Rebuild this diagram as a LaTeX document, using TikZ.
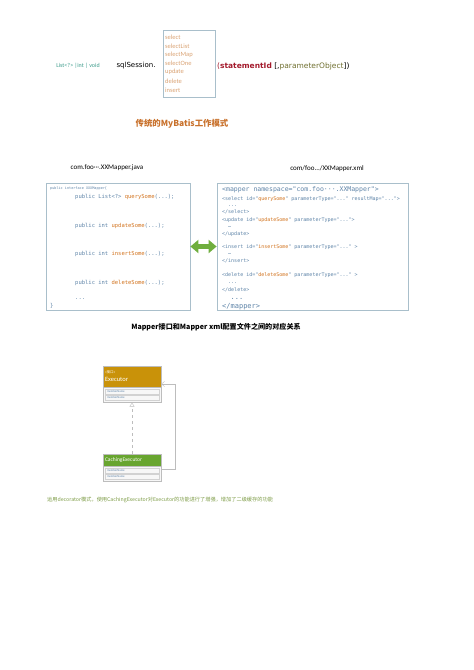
\documentclass[tikz,border=0pt]{standalone}
\usepackage{fontspec}
\setmainfont{Carlito}
\setmonofont{DejaVu Sans Mono}
\newfontfamily\cjk{Noto Sans CJK SC}
\newfontfamily\callfont{DejaVu Sans}
\usepackage{tikz}
\usetikzlibrary{arrows.meta,positioning}
\definecolor{retgreen}{HTML}{3E9C8C}
\definecolor{methodtan}{HTML}{D9A273}
\definecolor{idred}{HTML}{A3192B}
\definecolor{paramolive}{HTML}{6E6E2E}
\definecolor{capbrown}{HTML}{C8702A}
\definecolor{boxline}{HTML}{A9BFCB}
\definecolor{codeblue}{HTML}{5E84A8}
\definecolor{codeorange}{HTML}{D2731E}
\definecolor{arrowgreen}{HTML}{6FAE3E}
\definecolor{execgold}{HTML}{C99209}
\definecolor{cachegreen}{HTML}{68A52F}
\definecolor{umlgray}{HTML}{BDBDBD}
\definecolor{notegreen}{HTML}{7C9B45}
\tikzstyle{methodtext}=[anchor=west,inner sep=0pt,font=\fontsize{6.5}{7}\selectfont,text=methodtan]
\tikzstyle{calltext}=[inner sep=0pt,font=\callfont\fontsize{7.5}{9}\selectfont]
\tikzstyle{filelabel}=[inner sep=0pt,font=\fontsize{7}{8}\selectfont]
\tikzstyle{codebox}=[draw=boxline,line width=0.8pt,fill=white]
\tikzstyle{codeline}=[anchor=west,inner sep=0pt,font=\ttfamily\fontsize{5}{6}\selectfont,text=codeblue]
\tikzstyle{umlhead}=[draw=umlgray,minimum width=58pt,text width=54pt,align=left,inner sep=2pt,text=white]
\tikzstyle{umlbody}=[draw=umlgray,fill=gray!6,minimum width=58pt,minimum height=15pt,inner sep=0pt]
\tikzstyle{umlrow}=[draw=gray!35,minimum width=54pt,minimum height=5.5pt,inner sep=0pt,text width=50pt,
  font=\fontsize{3}{3.5}\selectfont,text=codeblue]
\tikzstyle{realize}=[draw=umlgray,dashed,-{Triangle[open,length=4pt,width=5pt]}]
\tikzstyle{assoc}=[draw=umlgray,-{Straight Barb[length=3pt,width=5pt]}]

\begin{document}
\begin{tikzpicture}[x=1pt,y=-1pt]
    \useasboundingbox (0,0) rectangle (474,670);
    % the way a plain sqlSession is called
    \node[inner sep=0pt,font=\fontsize{6}{7}\selectfont,text=retgreen] (ret) at (78,66) {List<?> |int | void};
    \node[calltext,font=\callfont\fontsize{7}{9}\selectfont] (sess) at (136,66) {sqlSession.};
    \node[draw=boxline,minimum width=52pt,minimum height=67pt] (methods) at (189,63.5) {};
    \foreach \y/\name [count=\i] in {37/select, 46/selectList, 55/selectMap, 63/selectOne,
        72/update, 81/delete, 90/insert}
        \node[methodtext] (m\i) at (165,\y) {\name};
    \node[calltext,anchor=west] (args) at (217,66)
        {\textcolor{idred}{(\textbf{statementId}} [,\textcolor{paramolive}{parameterObject}])};
    \node[inner sep=0pt,font=\cjk\bfseries\fontsize{8.4}{9}\selectfont,text=capbrown] (cap1) at (182,124)
        {传统的MyBatis工作模式};

    % mapper interface and mapper xml
    \node[filelabel] (javaname) at (107,168) {com.foo···.XXMapper.java};
    \node[filelabel] (xmlname) at (327,169) {com/foo.../XXMapper.xml};
    \node[codebox,minimum width=144pt,minimum height=127pt] (javabox) at (118,246.5) {};
    \node[codebox,minimum width=191pt,minimum height=127pt] (xmlbox) at (312.5,246.5) {};
    \node[codeline,font=\ttfamily\fontsize{3.5}{4}\selectfont] (j1) at (50,189) {public interface XXXMapper\{};
    \foreach \y/\txt [count=\i from 2] in {197/{public List<?> \textcolor{codeorange}{querySome}(...);},
        226/{public int \textcolor{codeorange}{updateSome}(...);},
        254/{public int \textcolor{codeorange}{insertSome}(...);},
        283/{public int \textcolor{codeorange}{deleteSome}(...);},
        299/{...}}
        \node[codeline,font=\ttfamily\fontsize{5.5}{6}\selectfont] (j\i) at (75,\y) {\txt};
    \node[codeline,font=\ttfamily\fontsize{5.5}{6}\selectfont] (j7) at (50,306) {\}};
    \node[codeline,font=\ttfamily\fontsize{6.5}{7}\selectfont] (x1) at (222,190) {<mapper namespace="com.foo···.XXMapper">};
    \foreach \y/\txt [count=\i from 2] in {199/{<select id="\textcolor{codeorange}{querySome}" parameterType="..." resultMap="...">},
        206/{\ \ ...}, 212/{</select>},
        220/{<update id="\textcolor{codeorange}{updateSome}" parameterType="...">},
        227/{\ \ …}, 234/{</update>},
        247/{<insert id="\textcolor{codeorange}{insertSome}" parameterType="..." >},
        254/{\ \ …}, 261/{</insert>},
        275/{<delete id="\textcolor{codeorange}{deleteSome}" parameterType="..." >},
        283/{\ \ ...}, 290/{</delete>}}
        \node[codeline] (x\i) at (222,\y) {\txt};
    \node[codeline,font=\ttfamily\fontsize{7}{8}\selectfont] (x14) at (222,299) {\ \ ...};
    \node[codeline,font=\ttfamily\fontsize{7}{8}\selectfont] (x15) at (222,307) {</mapper>};
    \draw[arrowgreen,line width=5pt,{Triangle[length=8pt,width=13pt]}-{Triangle[length=8pt,width=13pt]}]
        (javabox) -- (xmlbox);
    \node[inner sep=0pt,font=\cjk\bfseries\fontsize{7.1}{8}\selectfont] (cap2) at (216,327)
        {Mapper接口和Mapper xml配置文件之间的对应关系};

    % decorator: CachingExecutor wraps Executor
    \node[umlhead,fill=execgold,minimum height=21pt,font=\fontsize{6.5}{8}\selectfont] (exec) at (132,376.5)
        {{\cjk\fontsize{3.5}{4}\selectfont «接口»}\\Executor};
    \node[umlbody,below=0pt of exec] (exec body) {};
    \node[umlrow] (exec m1) at ([yshift=-4.5pt]exec body.north) {memberName};
    \node[umlrow,below=0pt of exec m1] (exec m2) {memberName};
    \node[umlhead,fill=cachegreen,minimum height=12pt,font=\fontsize{5.5}{6}\selectfont] (cache) at (132,460)
        {CachingExecutor};
    \node[umlbody,below=0pt of cache] (cache body) {};
    \node[umlrow] (cache m1) at ([yshift=-4.5pt]cache body.north) {memberName};
    \node[umlrow,below=0pt of cache m1] (cache m2) {memberName};
    \coordinate (hook) at (175,0);
    \path[realize] (cache.north) -- (exec body.south);
    \path[assoc] ([yshift=-3pt]cache body.north east) -- ([yshift=-3pt]cache body.north east -| hook)
        |- ([yshift=-7.5pt]exec.east);
    \node[anchor=west,inner sep=0pt,font=\cjk\fontsize{5.2}{6}\selectfont,text=notegreen] (note) at (47,500)
        {运用decorator模式，使用CachingExecutor对Executor的功能进行了增强，增加了二级缓存的功能};
\end{tikzpicture}
\end{document}
